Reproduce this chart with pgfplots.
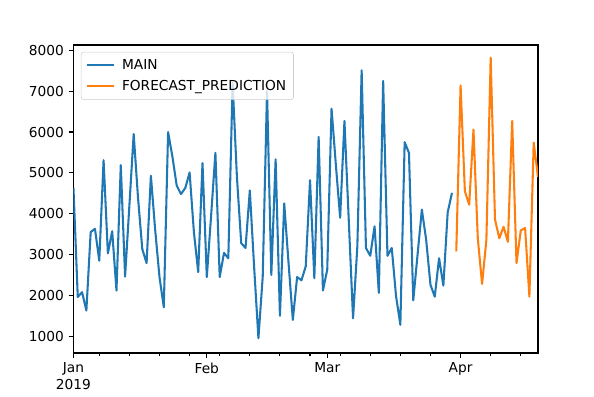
\documentclass[border=0pt]{standalone}
\usepackage{fontspec}
\setmainfont{DejaVu Sans}
\usepackage{pgfplots}
\pgfplotsset{compat=1.18}
\definecolor{mplblue}{HTML}{1F77B4}
\definecolor{mplorange}{HTML}{FF7F0E}
\begin{document}
\fontsize{10.3}{12.4}\selectfont
\begin{tikzpicture}[x=1pt,y=1pt]
\path[use as bounding box] (0,0) rectangle (445.5,297.75);
\begin{axis}[
  at={(55.1pt,33pt)}, anchor=south west,
  scale only axis, width=348.4pt, height=231pt,
  xmin=0, xmax=108, ymin=590, ymax=8130,
  axis line style={black, line width=0.825pt},
  tick align=outside, xtick pos=lower, ytick pos=left,
  major tick length=3.6pt, minor tick length=2.06pt,
  tick style={black, line width=0.825pt},
  xtick={0,31,59,90},
  xticklabels={{Jan\\2019},Feb,Mar,Apr},
  xticklabel style={align=center, font=\fontsize{10.3}{12.4}\selectfont},
  minor xtick={6,13,20,27,34,41,48,55,62,69,76,83,97,104},
  ytick={1000,2000,3000,4000,5000,6000,7000,8000},
  yticklabel style={font=\fontsize{10.3}{12.4}\selectfont},
  /pgf/number format/assume math mode=true,
  /pgf/number format/set thousands separator={},
  legend cell align=left,
  legend style={at={(0.016,0.978)}, anchor=north west, draw=black!20, rounded corners=2pt,
    fill=white, fill opacity=0.8, text opacity=1, draw opacity=1,
    font=\fontsize{10.3}{12.4}\selectfont, inner xsep=3.5pt, inner ysep=3.5pt,
    row sep=2.5pt, column sep=3pt},
  legend image code/.code={\draw[#1] (0pt,0pt) -- (20.6pt,0pt);},
]
\addplot[mplblue, line width=1.55pt, line join=round, mark=none] coordinates {
(0,4630) (1,1960) (2,2080) (3,1630) (4,3550) (5,3630) (6,2850) (7,5310)
(8,3030) (9,3570) (10,2120) (11,5190) (12,2460) (13,4200) (14,5950) (15,4400)
(16,3135) (17,2790) (18,4930) (19,3600) (20,2450) (21,1710) (22,6000) (23,5400)
(24,4690) (25,4480) (26,4630) (27,5010) (28,3550) (29,2570) (30,5240) (31,2450)
(32,3950) (33,5490) (34,2450) (35,3040) (36,2910) (37,7200) (38,4900) (39,3280)
(40,3160) (41,4570) (42,2700) (43,950) (44,2460) (45,7000) (46,2500) (47,5330)
(48,1500) (49,4250) (50,2800) (51,1400) (52,2450) (53,2370) (54,2710) (55,4820)
(56,2420) (57,5880) (58,2120) (59,2630) (60,6570) (61,5200) (62,3900) (63,6270)
(64,3850) (65,1440) (66,3200) (67,7510) (68,3160) (69,2970) (70,3690) (71,2060)
(72,7250) (73,2970) (74,3160) (75,1980) (76,1280) (77,5750) (78,5490) (79,1880)
(80,3000) (81,4100) (82,3360) (83,2260) (84,1970) (85,2910) (86,2240) (87,4030)
(88,4510)
};
\addlegendentry{MAIN}
\addplot[mplorange, line width=1.55pt, line join=round, mark=none] coordinates {
(89,3080) (90,7140) (91,4550) (92,4220) (93,6060) (94,3400) (95,2280) (96,3360)
(97,7820) (98,3860) (99,3400) (100,3680) (101,3310) (102,6270) (103,2790) (104,3590)
(105,3650) (106,1970) (107,5740) (108,4900)
};
\addlegendentry{FORECAST\_PREDICTION}
\end{axis}
\end{tikzpicture}
\end{document}
